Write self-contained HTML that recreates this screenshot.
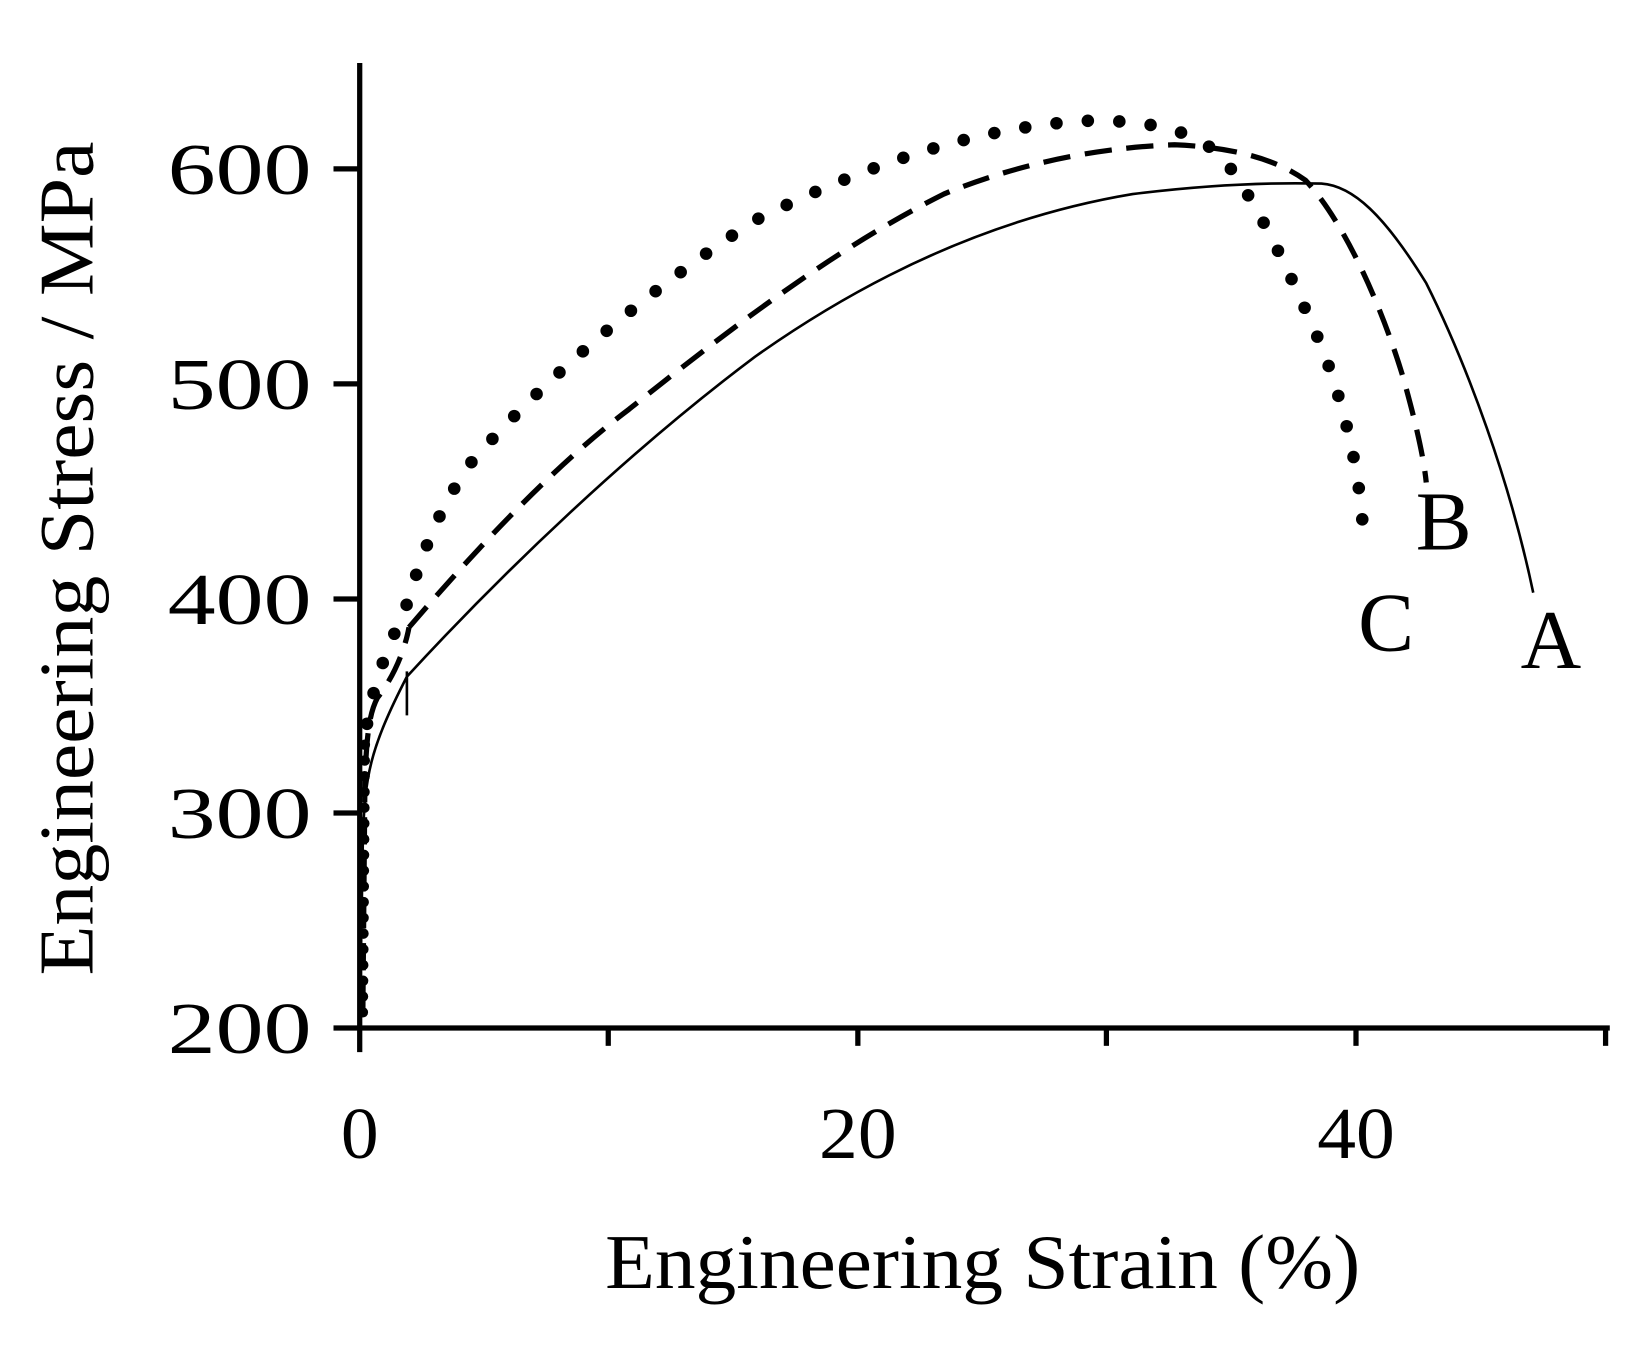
<!DOCTYPE html>
<html><head><style>html,body{margin:0;padding:0;background:#fff}svg{display:block}</style></head>
<body>
<svg width="1636" height="1349" viewBox="0 0 1560 1286" preserveAspectRatio="none" xmlns="http://www.w3.org/2000/svg">
<rect width="1560" height="1286" fill="#fff"/>
<g stroke="#000" stroke-width="5" fill="none">
<line x1="343" y1="60" x2="343" y2="1003"/>
<line x1="318" y1="980" x2="1535" y2="980"/>
<line x1="318" y1="161" x2="343" y2="161"/>
<line x1="318" y1="366" x2="343" y2="366"/>
<line x1="318" y1="571" x2="343" y2="571"/>
<line x1="318" y1="775" x2="343" y2="775"/>
<line x1="580" y1="980" x2="580" y2="997"/>
<line x1="818" y1="980" x2="818" y2="997"/>
<line x1="1055" y1="980" x2="1055" y2="997"/>
<line x1="1293" y1="980" x2="1293" y2="997"/>
<line x1="1531" y1="980" x2="1531" y2="997"/>
</g>
<g font-family="Liberation Serif, serif" font-size="70" fill="#000">
<text x="160" y="185" textLength="137" lengthAdjust="spacingAndGlyphs">600</text>
<text x="160" y="390" textLength="137" lengthAdjust="spacingAndGlyphs">500</text>
<text x="160" y="595" textLength="137" lengthAdjust="spacingAndGlyphs">400</text>
<text x="160" y="799" textLength="137" lengthAdjust="spacingAndGlyphs">300</text>
<text x="160" y="1004" textLength="137" lengthAdjust="spacingAndGlyphs">200</text>
<text x="325" y="1104" textLength="36" lengthAdjust="spacingAndGlyphs">0</text>
<text x="781" y="1104" textLength="74" lengthAdjust="spacingAndGlyphs">20</text>
<text x="1256" y="1104" textLength="74" lengthAdjust="spacingAndGlyphs">40</text>
<text x="577" y="1228" font-size="74" textLength="720" lengthAdjust="spacingAndGlyphs">Engineering Strain (%)</text>
<text transform="translate(88,930) rotate(-90)" font-size="74" textLength="795" lengthAdjust="spacingAndGlyphs">Engineering Stress / MPa</text>
<text x="1350" y="524" font-size="80">B</text>
<text x="1295" y="620" font-size="80">C</text>
<text x="1450" y="637" font-size="80">A</text>
</g>
<!-- A -->
<path d="M343,980 L346,800 C348,740 352,715 388,645 M388,640 L388,682 M388,645 C480,545 600,430 720,340 C840,255 960,205 1080,185 C1160,175 1220,174 1260,175 C1290,177 1320,205 1360,270 C1400,350 1440,460 1462,565" stroke="#000" stroke-width="2.5" fill="none"/>
<!-- B -->
<path d="M346,965 L348,740 C350,700 352,680 360,665 C372,650 385,625 390,598 M390,598 C440,540 520,450 600,390 C700,310 800,235 900,185 C980,152 1060,140 1120,138 C1170,140 1215,150 1245,172 C1285,215 1320,300 1338,360 C1352,410 1358,440 1360,460" stroke="#000" stroke-width="5" stroke-dasharray="26 14" fill="none"/>
<!-- C -->
<path d="M346,965 L348,700" stroke="#000" stroke-width="10" stroke-linecap="round" stroke-dasharray="0 15" fill="none"/>
<path d="M350,690 C355,660 365,625 385,585 C395,555 410,495 450,440 C520,360 620,275 720,210 C820,160 930,120 1040,115 C1100,115 1140,125 1165,150 C1195,185 1230,260 1260,330 C1285,395 1298,460 1300,512" stroke="#000" stroke-width="12" stroke-linecap="round" stroke-dasharray="0 30" fill="none"/>
</svg>
</body></html>
